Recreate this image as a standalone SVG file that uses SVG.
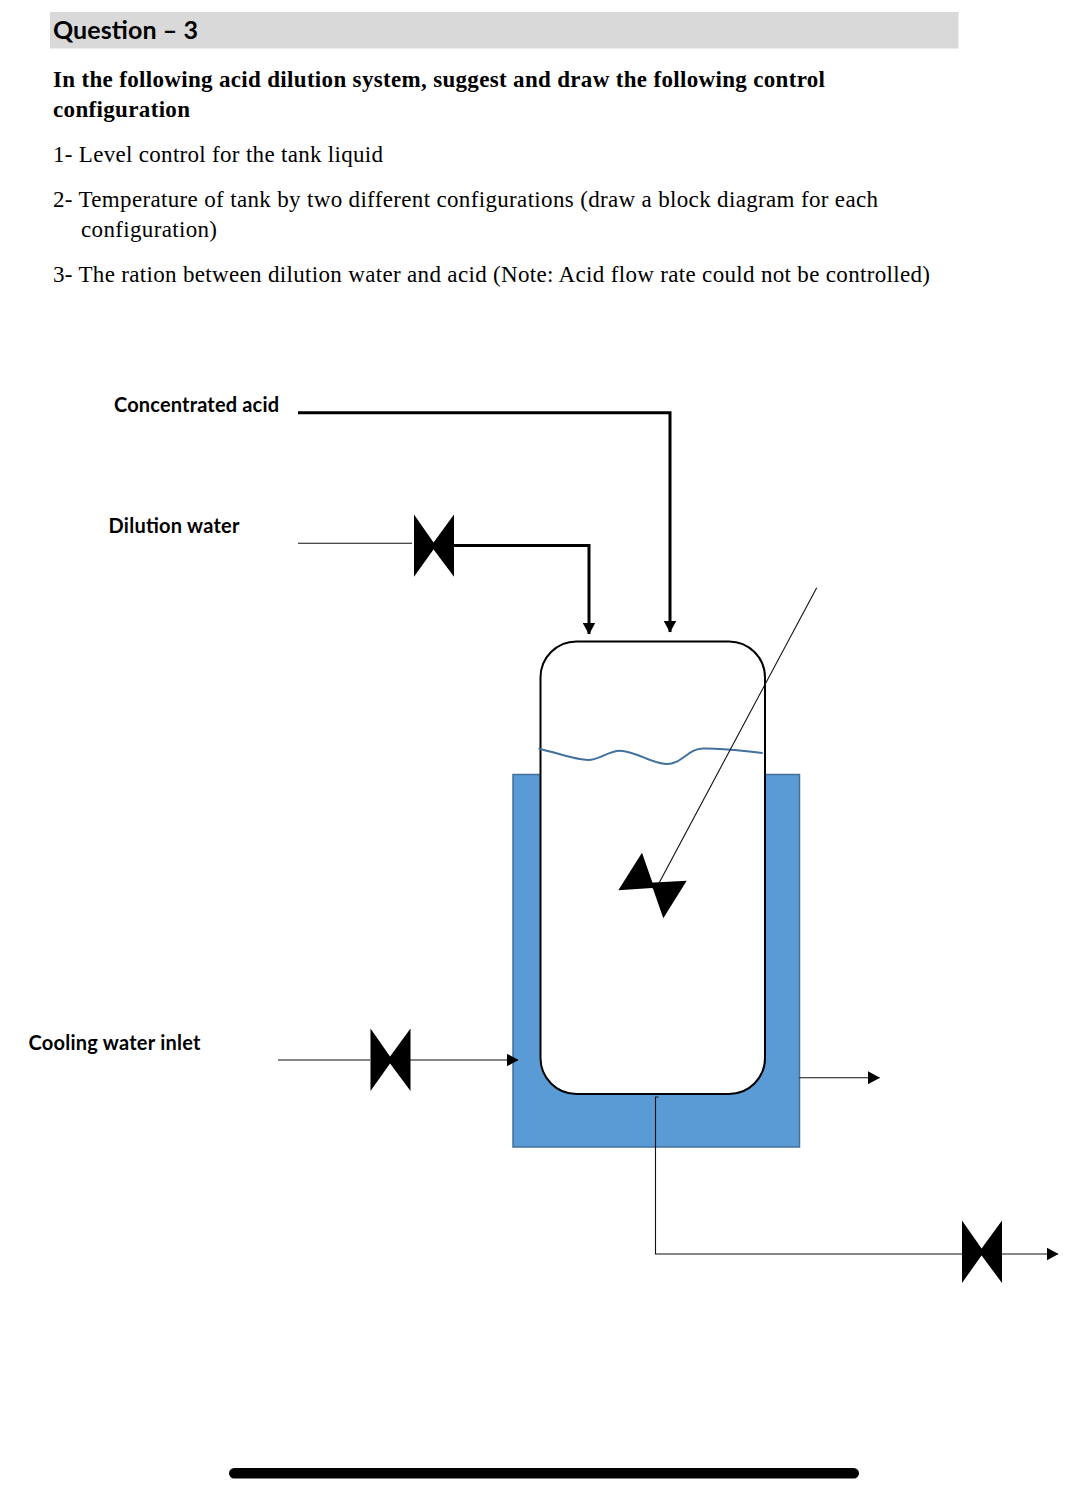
<svg xmlns="http://www.w3.org/2000/svg" width="1069" height="1494" viewBox="0 0 1069 1494">
<style>
.q{font-family:"Liberation Serif","Times New Roman",serif;font-size:23px;fill:#000}
.b{font-weight:bold}
.l{font-family:Lato,"Open Sans",sans-serif;font-weight:bold;font-size:20px;fill:#000}
.thin{fill:none;stroke:#111;stroke-width:1.1}
.thick{fill:none;stroke:#000;stroke-width:3}
.v{fill:#000}
</style>
<defs>
<marker id="a" markerUnits="userSpaceOnUse" markerWidth="13" markerHeight="13" refX="11.500" refY="6.500" orient="auto"><path d="M0,0L12,6.500L0,13Z" fill="#000"/></marker>
</defs>
<rect width="1069" height="1494" fill="#fff"/>
<g id="header">
<rect x="50" y="12" width="908.500" height="36.500" fill="#d9d9d9"/>
<text x="53" y="39" style="font-family:Lato,'Open Sans',sans-serif;font-weight:bold;font-size:25px" textLength="145">Question – 3</text>
<text class="q b" x="53" y="87" textLength="772">In the following acid dilution system, suggest and draw the following control</text>
<text class="q b" x="53" y="117" textLength="137">configuration</text>
<text class="q" x="53" y="162" textLength="330">1- Level control for the tank liquid</text>
<text class="q" x="53" y="207" textLength="825">2- Temperature of tank by two different configurations (draw a block diagram for each</text>
<text class="q" x="81" y="237" textLength="136">configuration)</text>
<text class="q" x="53" y="282" textLength="877">3- The ration between dilution water and acid (Note: Acid flow rate could not be controlled)</text>
</g>
<g id="jacket"><rect x="513" y="774.500" width="286.500" height="372.500" fill="#5b9bd5" stroke="#41719c" stroke-width="1.500"/></g>
<g id="tank"><rect x="540.500" y="641.500" width="224.500" height="452.500" rx="36" ry="36" fill="#fff" stroke="#000" stroke-width="2"/></g>
<g id="liquid-level"><path d="M538.500,748.700C555,752 575,760 588,760C600,760 608,750.700 620,750.700C635,750.700 652,764 666.700,764C682,764 688,748.700 703,748.500C725,748 745,751.500 762.700,753" fill="none" stroke="#41719c" stroke-width="2"/></g>
<g id="connectors">
<path class="thick" d="M298,412.800H670V632" marker-end="url(#a)"/>
<path class="thin" d="M298,543.300H412"/>
<path class="thick" d="M454,545.500H589V634" marker-end="url(#a)"/>
<path class="thin" d="M816.700,587.700L658,885"/>
<path class="thin" d="M278,1060H370"/>
<path class="thin" d="M410,1060H518" marker-end="url(#a)"/>
<path class="thin" d="M799.500,1077.700H879.500" marker-end="url(#a)"/>
<path class="thin" d="M658.500,1097H655.500V1254H962"/>
<path class="thin" d="M1002,1254H1058" marker-end="url(#a)"/>
</g>
<g id="valve-dilution"><path class="v" d="M414,514.500L436,546L414,576.700ZM454,514.500L454,576.700L431,546Z"/></g>
<g id="valve-cooling"><path class="v" d="M370.500,1028.500L392.500,1060L370.500,1091ZM410.500,1028.500L410.500,1091L387.500,1060Z"/></g>
<g id="valve-outlet"><path class="v" d="M962,1220.500L984,1252L962,1283ZM1002,1220.500L1002,1283L979,1252Z"/></g>
<g id="agitator"><path class="v" d="M618.300,890.300L642,852.700L655,890L652,888ZM686.700,880.700L663.300,918.300L651,883L654,882.500Z"/></g>
<g id="labels">
<text class="l" x="114" y="412" textLength="165">Concentrated acid</text>
<text class="l" x="108.500" y="533" textLength="131">Dilution water</text>
<text class="l" x="28.500" y="1050" textLength="172">Cooling water inlet</text>
</g>
<g id="home-bar"><rect x="229" y="1468" width="630" height="10.500" rx="5.200" fill="#000"/></g>
</svg>
